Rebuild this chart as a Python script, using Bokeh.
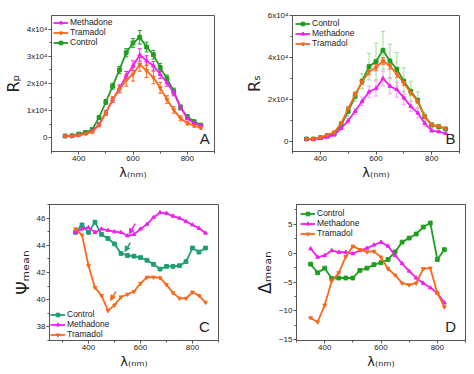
from bokeh.plotting import figure
from bokeh.models import (Range1d, FixedTicker, Label, Legend, LegendItem, Whisker,
                          ColumnDataSource, TeeHead, Arrow, NormalHead)
from bokeh.layouts import column, row
from bokeh.embed import file_html
from bokeh.resources import INLINE

# ---------------- data ----------------
wl = [350, 375, 400, 425, 450, 475, 500, 525, 550, 575, 600, 625, 650, 675, 700,
      725, 750, 775, 800, 825, 850]
wl_d = [350, 375, 400, 425, 450, 475, 500, 525, 550, 575, 600, 625, 650, 675, 700,
        725, 750, 775, 800, 825]

# Panel A : Rp
A_control = [700, 800, 1400, 2000, 3100, 7500, 13200, 19000, 25000, 31300, 34900, 37000,
             33400, 30600, 25900, 21800, 17200, 11200, 7800, 6000, 4700]
A_control_err = [200, 200, 300, 400, 500, 700, 900, 1100, 1300, 1500, 1600, 2500, 1800,
                 1600, 1500, 1300, 1100, 900, 700, 500, 400]
A_methadone = [700, 700, 1000, 1600, 2500, 5000, 9300, 14000, 18200, 22800, 26500, 30500,
               28400, 26500, 23400, 20300, 16600, 11200, 7200, 5400, 4500]
A_methadone_err = [200, 200, 200, 300, 400, 600, 800, 1000, 1300, 1600, 1800, 2300, 1800,
                   1600, 1500, 1300, 1100, 800, 600, 500, 400]
A_tramadol = [700, 650, 1000, 1500, 2200, 4700, 9100, 14100, 17800, 21200, 23400, 27000,
              24700, 22200, 18400, 14100, 10300, 7200, 5400, 4500, 3700]
A_tramadol_err = [200, 200, 200, 300, 400, 600, 800, 1000, 1300, 2200, 2500, 2500, 2500,
                  2300, 2000, 1400, 1200, 900, 600, 500, 400]

# Panel B : Rs
B_control = [1000, 1000, 1600, 2600, 3700, 7700, 14200, 21400, 28600, 35600, 38000, 43400,
             38300, 34300, 28600, 23800, 19500, 11700, 7700, 6900, 5800]
B_control_err = [300, 300, 400, 500, 700, 1200, 2400, 2400, 3600, 6400, 8800, 9000, 8000,
                 8000, 6400, 4800, 4000, 2000, 1200, 800, 600]
B_methadone = [800, 800, 1300, 1900, 2900, 6100, 9700, 14200, 19000, 23500, 25100, 29900,
               26200, 24600, 20600, 16600, 13400, 8500, 5000, 4500, 3700]
B_methadone_err = [200, 200, 300, 400, 500, 800, 1200, 1500, 2000, 2800, 3600, 3600, 3600,
                   3600, 3200, 2400, 2400, 1500, 800, 600, 500]
B_tramadol = [1000, 1000, 1700, 2900, 4200, 8500, 15400, 22200, 28300, 33100, 35100, 38300,
              35900, 31900, 27800, 23000, 19000, 11700, 7700, 7000, 6100]
B_tramadol_err = [200, 200, 300, 400, 500, 700, 900, 1000, 1200, 1400, 1500, 1600, 1500,
                  1400, 1200, 1000, 900, 700, 500, 400, 400]

# Panel C : Psi mean
C_control = [44.95, 45.5, 44.95, 45.7, 44.8, 44.5, 44.1, 43.4, 43.25, 43.2, 43.1, 42.9,
             42.6, 42.25, 42.45, 42.45, 42.5, 42.8, 43.8, 43.5, 43.8]
C_methadone = [44.95, 45.2, 45.3, 44.95, 45.2, 45.1, 45.0, 44.95, 44.7, 44.8, 45.2, 45.55,
               46.05, 46.4, 46.35, 46.15, 46.0, 45.75, 45.5, 45.25, 44.9]
C_tramadol = [45.2, 44.75, 42.5, 40.9, 40.3, 39.2, 39.6, 40.2, 40.4, 40.6, 41.2, 41.65,
              41.65, 41.6, 41.1, 40.5, 40.1, 40.1, 40.55, 40.3, 39.8]

# Panel D : Delta mean
D_control = [-1.9, -3.4, -2.6, -4.4, -4.3, -4.3, -4.3, -3.0, -2.6, -2.0, -1.65, -1.1,
             0.2, 1.9, 2.6, 3.3, 4.5, 5.2, -1.1, 0.6]
D_methadone = [0.75, -0.7, -0.4, 0.45, 0.15, 0.15, -0.1, 0.45, 0.85, 1.4, 1.9, 1.2,
               -0.4, -1.8, -3.1, -4.3, -5.2, -6.0, -6.9, -8.6]
D_tramadol = [-11.2, -11.9, -9.0, -4.8, -3.4, -0.6, 1.2, 0.6, 0.2, 0.3, -0.7, -2.7,
              -3.8, -5.2, -5.5, -5.2, -2.7, -2.6, -6.9, -9.3]

# arrows in panel C: (x_start, y_start, x_end, y_end)
C_arrows = {
    "methadone": (580, 45.6, 557, 44.85),
    "control": (561, 44.2, 540, 43.55),
    "tramadol": (505, 40.6, 485, 39.95),
}

GREEN = "#1f9e1f"
TEAL = "#1e9e72"
MAGENTA = "#f020f0"
ORANGE = "#f8691c"
LGREEN = "#9fdc98"
LMAG = "#f3a0f3"
FONT = "Liberation Sans"
LFONT = "DejaVu Sans"
TXT = "#222222"
XLABEL = "λ₍ₙₘ₎"


def make_fig(size, xr, yr, borders, xt, xmt, yt, ymt, ylabel, ylabel_size, ylabels=None):
    left, right, top, bottom = borders
    p = figure(width=size[0], height=size[1], output_backend="svg", toolbar_location=None,
               x_range=Range1d(*xr), y_range=Range1d(*yr),
               min_border_left=left, min_border_right=right,
               min_border_top=top, min_border_bottom=bottom)
    p.xgrid.visible = False
    p.ygrid.visible = False
    p.outline_line_color = "#555555"
    p.outline_line_width = 1
    for ax, t, mt in ((p.xaxis[0], xt, xmt), (p.yaxis[0], yt, ymt)):
        ax.ticker = FixedTicker(ticks=t, minor_ticks=mt)
        ax.axis_line_color = "#555555"
        ax.major_tick_line_color = "#555555"
        ax.minor_tick_line_color = "#555555"
        ax.major_tick_in = 0
        ax.major_tick_out = 3
        ax.minor_tick_in = 0
        ax.minor_tick_out = 2
        ax.major_label_text_font = FONT
        ax.major_label_text_font_size = "8px"
        ax.major_label_text_color = TXT
        ax.major_label_standoff = 1
        ax.axis_label_text_font = LFONT
        ax.axis_label_text_font_style = "normal"
        ax.axis_label_text_color = TXT
        ax.axis_label_standoff = 1
    p.xaxis[0].axis_label = XLABEL
    p.xaxis[0].axis_label_text_font_size = "13px"
    p.yaxis[0].axis_label = ylabel
    p.yaxis[0].axis_label_text_font_size = ylabel_size
    if ylabels:
        p.yaxis[0].major_label_overrides = ylabels
    return p


def add_letter(p, x, y, text):
    p.add_layout(Label(x=x, y=y, text=text, text_font=FONT, text_font_size="15px",
                       text_color=TXT, text_align="center", text_baseline="middle"))


def series(p, x, y, color, marker, size=3.8, err=None, err_color=None):
    src = ColumnDataSource(dict(x=x, y=y))
    if err is not None:
        src.data["lo"] = [a - b for a, b in zip(y, err)]
        src.data["hi"] = [a + b for a, b in zip(y, err)]
        ec = err_color or color
        w = Whisker(source=src, base="x", lower="lo", upper="hi", line_color=ec,
                    line_width=1,
                    upper_head=TeeHead(size=4, line_color=ec, line_width=1),
                    lower_head=TeeHead(size=4, line_color=ec, line_width=1))
        p.add_layout(w)
    ln = p.line("x", "y", source=src, line_color=color, line_width=1.8)
    sc = p.scatter("x", "y", source=src, marker=marker, size=size,
                   fill_color=color, line_color=color)
    return [ln, sc]


def add_legend(p, items, loc, margin):
    lg = Legend(items=[LegendItem(label=l, renderers=r) for l, r in items],
                location=loc, orientation="vertical",
                label_text_font=FONT, label_text_font_size="8.5px",
                label_text_color=TXT, glyph_width=15, glyph_height=9,
                label_height=9, label_standoff=2, spacing=0, padding=0, margin=margin,
                border_line_color=None, background_fill_alpha=0)
    p.add_layout(lg)


# ---------------- Panel A ----------------
pA = make_fig((237, 187), (300, 900), (-5000, 45000), (48, 23, 15, 36),
              [400, 600, 800], [300, 500, 700, 900],
              [0, 10000, 20000, 30000, 40000], [5000, 15000, 25000, 35000],
              "Rₚ", "16px",
              {0: "0", 10000: "1x10⁴", 20000: "2x10⁴", 30000: "3x10⁴", 40000: "4x10⁴"})
rA_c = series(pA, wl, A_control, GREEN, "square", err=A_control_err)
rA_m = series(pA, wl, A_methadone, MAGENTA, "triangle", err=A_methadone_err)
rA_t = series(pA, wl, A_tramadol, ORANGE, "inverted_triangle", err=A_tramadol_err)
add_legend(pA, [("Methadone", rA_m), ("Tramadol", rA_t), ("Control", rA_c)], "top_left", 2)
add_letter(pA, 864, -300, "A")

# ---------------- Panel B ----------------
pB = make_fig((236, 187), (300, 900), (-5000, 60000), (55, 14, 15, 36),
              [400, 600, 800], [300, 500, 700, 900],
              [0, 20000, 40000, 60000], [10000, 30000, 50000],
              "Rₛ", "16px",
              {0: "0", 20000: "2x10⁴", 40000: "4x10⁴", 60000: "6x10⁴"})
rB_c = series(pB, wl, B_control, GREEN, "square", err=B_control_err, err_color=LGREEN)
rB_m = series(pB, wl, B_methadone, MAGENTA, "triangle", err=B_methadone_err, err_color=LMAG)
rB_t = series(pB, wl, B_tramadol, ORANGE, "inverted_triangle", err=B_tramadol_err)
add_legend(pB, [("Control", rB_c), ("Methadone", rB_m), ("Tramadol", rB_t)], "top_left", 3)
add_letter(pB, 868, 1100, "B")

# ---------------- Panel C ----------------
pC = make_fig((237, 186), (250, 900), (37, 47), (49, 19, 17, 33),
              [400, 600, 800], [300, 500, 700, 900],
              [38, 40, 42, 44, 46], [37, 39, 41, 43, 45, 47],
              "Ψₘₑₐₙ", "17px")
rC_c = series(pC, wl, C_control, TEAL, "square")
rC_m = series(pC, wl, C_methadone, MAGENTA, "triangle")
rC_t = series(pC, wl, C_tramadol, ORANGE, "inverted_triangle")
for key, col in (("methadone", MAGENTA), ("control", TEAL), ("tramadol", ORANGE)):
    xs, ys, xe, ye = C_arrows[key]
    pC.add_layout(Arrow(x_start=xs, y_start=ys, x_end=xe, y_end=ye, line_color=col,
                        line_width=1.5,
                        end=NormalHead(size=5, fill_color=col, line_color=col)))
add_legend(pC, [("Control", rC_c), ("Methadone", rC_m), ("Tramadol", rC_t)], "bottom_left", 1)
add_letter(pC, 846, 38.03, "C")

# ---------------- Panel D ----------------
pD = make_fig((236, 186), (300, 900), (-15.1, 8.4), (59, 8, 15, 33),
              [400, 600, 800], [300, 500, 700, 900],
              [-15, -10, -5, 0, 5], [-12.5, -7.5, -2.5, 2.5, 7.5],
              "Δₘₑₐₙ", "17px")
rD_c = series(pD, wl_d, D_control, GREEN, "square")
rD_m = series(pD, wl_d, D_methadone, MAGENTA, "triangle")
rD_t = series(pD, wl_d, D_tramadol, ORANGE, "inverted_triangle")
add_legend(pD, [("Control", rD_c), ("Methadone", rD_m), ("Tramadol", rD_t)], "top_left", 4)
add_letter(pD, 847, -12.6, "D")

layout = column(row(pA, pB, spacing=0), row(pC, pD, spacing=0), spacing=0)
open("out.html", "w").write(file_html(layout, INLINE))
